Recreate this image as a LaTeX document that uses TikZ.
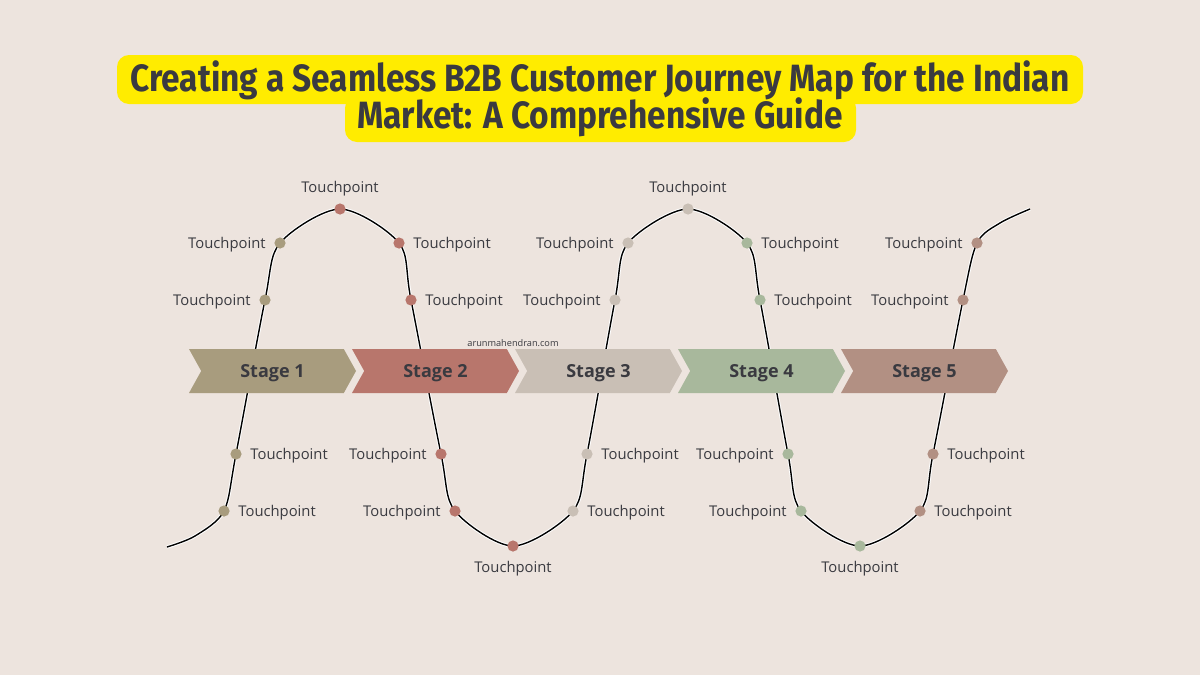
\documentclass[tikz,border=0pt]{standalone}
\usepackage{fontspec}
\setmainfont{Open Sans}
\newfontfamily\titlefont{Fira Sans}[FakeStretch=0.88]
\usetikzlibrary{shapes.symbols}

\definecolor{journeybg}{HTML}{EDE4DE}
\definecolor{journeyyellow}{HTML}{FFEC00}
\definecolor{journeytext}{HTML}{3A3A40}
\definecolor{stageone}{HTML}{A89C7E}
\definecolor{stagetwo}{HTML}{B8766C}
\definecolor{stagethree}{HTML}{C9BFB5}
\definecolor{stagefour}{HTML}{A8B89C}
\definecolor{stagefive}{HTML}{B29083}

% x / y / colour / label side of every touchpoint, along the curve
\def\touchlist{224/511/stageone/right, 236/454/stageone/right, 265/300/stageone/left, 280/243/stageone/left,
  340/209/stagetwo/above, 399/243/stagetwo/right, 411/300/stagetwo/right, 441/454/stagetwo/left, 455/511/stagetwo/left, 513/546/stagetwo/below,
  573/511/stagethree/right, 587/454/stagethree/right, 615/300/stagethree/left, 628/243/stagethree/left, 688/209/stagethree/above,
  747/243/stagefour/right, 760/300/stagefour/right, 788/454/stagefour/left, 801/511/stagefour/left, 860/546/stagefour/below,
  920/511/stagefive/right, 933/454/stagefive/right, 963/300/stagefive/left, 977/243/stagefive/left}

\begin{document}
\begin{tikzpicture}[x=0.5pt, y=-0.5pt,
    titletext/.style={font=\titlefont\bfseries\fontsize{19}{21}\selectfont, text=journeytext, inner sep=0pt},
    stagebox/.style={signal, signal to=east, signal from=west, signal pointer angle=122,
      minimum width=83.5pt, minimum height=22pt, inner sep=0pt, text depth=0pt,
      font=\bfseries\fontsize{9}{10}\selectfont, text=journeytext},
    tpdot/.style={circle, inner sep=0pt, minimum size=5.6pt},
    tplabel/.style={font=\fontsize{7.4}{9}\selectfont, text=journeytext, inner sep=0pt, label distance=4pt, yshift=-0.6pt}]
    \fill[journeybg] (0,0) rectangle (1200,675);
    \useasboundingbox (0,0) rectangle (1200,675);

    % Title
    \fill[journeyyellow, rounded corners=6pt] (117,55) rectangle (1083,104);
    \fill[journeyyellow, rounded corners=6pt] (345,96) rectangle (856,142);
    \node[titletext, anchor=base] (titleone) at (600,91) {Creating a Seamless B2B Customer Journey Map for the Indian};
    \node[titletext, anchor=base] (titletwo) at (600,128) {Market: A Comprehensive Guide};

    % Journey curve
    \coordinate (start) at (167,547);
    \coordinate (startbend) at (195,536);
    \coordinate (endbend) at (1000,223);
    \coordinate (end) at (1030,209);
    \foreach \px/\py/\c/\s [count=\i] in \touchlist
      \coordinate (p\i) at (\px,\py);
    \draw[black, line width=0.7pt, preaction={draw=white, line width=1.7pt}]
      plot[smooth] coordinates {(start) (startbend) (p1) (p2) (p3) (p4) (p5) (p6) (p7) (p8) (p9) (p10) (p11) (p12)
        (p13) (p14) (p15) (p16) (p17) (p18) (p19) (p20) (p21) (p22) (p23) (p24) (endbend) (end)};

    % Stages
    \foreach \n/\c [count=\k from 0] in {1/stageone, 2/stagetwo, 3/stagethree, 4/stagefour, 5/stagefive}
      \node[stagebox, fill=\c] (stage\n) at (272.5+163*\k,371) {Stage \n};
    \node[font=\fontsize{4.6}{5}\selectfont, text=journeytext, inner sep=0pt] (site) at (513,343) {arunmahendran.com};

    % Touchpoints
    \foreach \px/\py/\c/\s [count=\i] in \touchlist
      \node[tpdot, fill=\c, label={[tplabel]\s:Touchpoint}] (tp\i) at (p\i) {};
\end{tikzpicture}
\end{document}
